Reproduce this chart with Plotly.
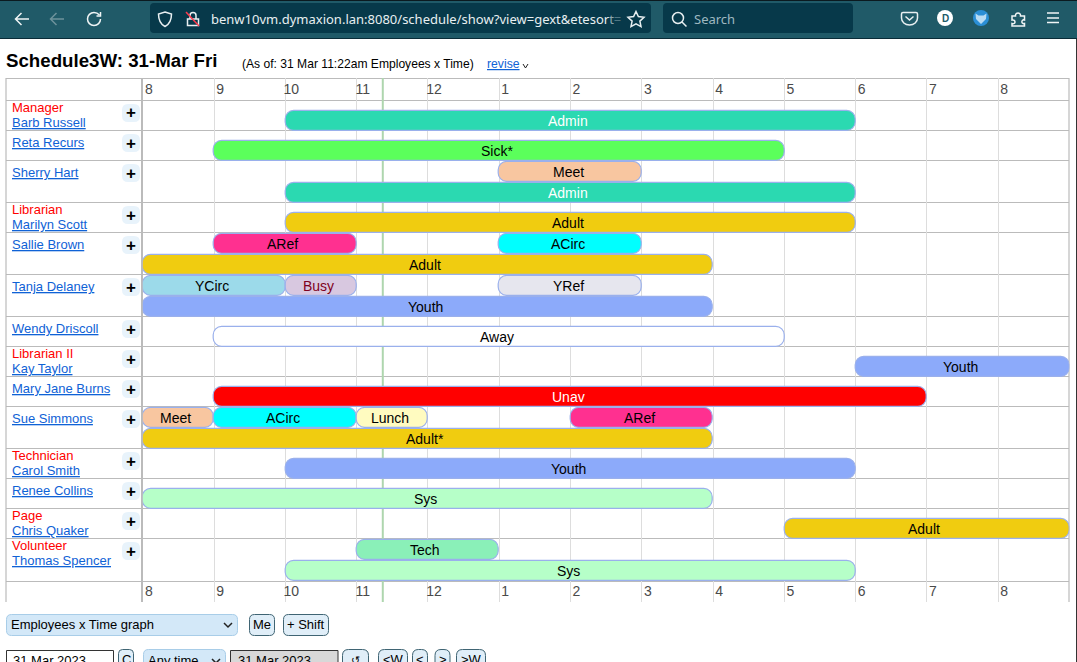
''' Schedule3W screen: staff x time graph, shown inside the browser window it was captured from '''

import re
import plotly.graph_objects as go

WIDTH = 1077
HEIGHT = 662

# Staff rows, top to bottom
employees = ['Barb Russell', 'Reta Recurs', 'Sherry Hart', 'Marilyn Scott', 'Sallie Brown', 'Tanja Delaney',
             'Wendy Driscoll', 'Kay Taylor', 'Mary Jane Burns', 'Sue Simmons', 'Carol Smith', 'Renee Collins',
             'Chris Quaker', 'Thomas Spencer']
roles = ['Manager', '', '', 'Librarian', '', '', '', 'Librarian II', '', '', 'Technician', '', 'Page', 'Volunteer']

# Shifts: one entry per bar (hours on a 24h clock)
shift_staff = [0, 1, 2, 2, 3, 4, 4, 4, 5, 5, 5, 5, 6, 7, 8, 9, 9, 9, 9, 9, 10, 11, 12, 13, 13]
shift_lane = [0, 0, 0, 1, 0, 0, 0, 1, 0, 0, 0, 1, 0, 0, 0, 0, 0, 0, 0, 1, 0, 0, 0, 0, 1]
shift_label = ['Admin', 'Sick*', 'Meet', 'Admin', 'Adult', 'ARef', 'ACirc', 'Adult', 'YCirc', 'Busy', 'YRef', 'Youth',
               'Away', 'Youth', 'Unav', 'Meet', 'ACirc', 'Lunch', 'ARef', 'Adult*', 'Youth', 'Sys', 'Adult', 'Tech', 'Sys']
shift_start = [10, 9, 13, 10, 10, 9, 13, 8, 8, 10, 13, 8, 9, 18, 9, 8, 9, 11, 14, 8, 10, 8, 17, 11, 10]
shift_end = [18, 17, 15, 18, 18, 11, 15, 16, 10, 11, 15, 16, 17, 21, 19, 9, 11, 12, 16, 16, 18, 16, 21, 13, 18]

hour_ticks = [8, 9, 10, 11, 12, 13, 14, 15, 16, 17, 18, 19, 20]
hour_labels = ['8', '9', '10', '11', '12', '1', '2', '3', '4', '5', '6', '7', '8']
now_hour = 11 + 22 / 60

# Look of each shift type: fill, text
STYLES = {
    'Admin': ('#2bd9b1', '#ffffff'), 'Sick*': ('#5bff5b', '#000000'), 'Meet': ('#f8c6a0', '#000000'),
    'Adult': ('#f0cc10', '#000000'), 'Adult*': ('#f0cc10', '#000000'), 'ARef': ('#ff3090', '#000000'),
    'ACirc': ('#00ffff', '#000000'), 'YCirc': ('#9cdaea', '#000000'), 'Busy': ('#d8c8e0', '#800020'),
    'YRef': ('#e6e6ee', '#000000'), 'Youth': ('#8caafa', '#000000'), 'Away': ('#ffffff', '#000000'),
    'Unav': ('#ff0000', '#ffffff'), 'Lunch': ('#fffbc0', '#000000'), 'Sys': ('#b6ffc8', '#000000'),
    'Tech': ('#8af0b8', '#000000'),
}

FONT = 'Liberation Sans'
UI_FONT = 'Noto Sans'
GRID = '#dddddd'
RULE = '#bbbbbb'
LINK = '#0f62d6'

TABLE_LEFT, TABLE_RIGHT = 6, 1069
TABLE_TOP, HEADER_BOTTOM = 78, 100
PLOT_LEFT = 142
LANE = 21
ROW_MIN = 30
FOOTER = 21

shapes = []
annotations = []


def fx(x):
    return x / WIDTH


def fy(y):
    return 1 - y / HEIGHT


def label(x, y, text, size=13, color='#000000', font=FONT, anchor='left'):
    annotations.append(dict(xref='paper', yref='paper', x=fx(x), y=fy(y), text=text, showarrow=False,
                            xanchor=anchor, yanchor='middle', borderpad=0, borderwidth=0,
                            font=dict(family=font, size=size, color=color)))


def icon(d, color=None, width=1.5, fill=None):
    ''' Add an SVG path written in page pixels '''
    numbers = iter(re.findall(r'-?\d+\.?\d*|[A-Za-z]', d))
    out = []
    is_x = True
    for tok in numbers:
        if tok.isalpha():
            out.append(tok)
        else:
            out.append(str(fx(float(tok)) if is_x else fy(float(tok))))
            is_x = not is_x
    shapes.append(dict(type='path', xref='paper', yref='paper', path=' '.join(out), layer='above',
                       line=dict(color=color or 'rgba(0,0,0,0)', width=width if color else 0),
                       fillcolor=fill or 'rgba(0,0,0,0)'))


def box(x0, y0, x1, y1, fill, line=None, radius=0, width=1):
    ''' Rounded rectangle in page pixels '''
    r = radius
    if r:
        d = (f'M{x0 + r} {y0} L{x1 - r} {y0} Q{x1} {y0} {x1} {y0 + r} L{x1} {y1 - r} Q{x1} {y1} {x1 - r} {y1} '
             f'L{x0 + r} {y1} Q{x0} {y1} {x0} {y1 - r} L{x0} {y0 + r} Q{x0} {y0} {x0 + r} {y0} Z')
    else:
        d = f'M{x0} {y0} L{x1} {y0} L{x1} {y1} L{x0} {y1} Z'
    icon(d, color=line, width=width, fill=fill)


def dot(cx, cy, r, fill, line=None, width=1.5):
    shapes.append(dict(type='circle', xref='paper', yref='paper', layer='above',
                       x0=fx(cx - r), x1=fx(cx + r), y0=fy(cy + r), y1=fy(cy - r),
                       line=dict(color=line or 'rgba(0,0,0,0)', width=width if line else 0), fillcolor=fill))


# Row layout follows from how many lanes each person has
lanes = [1 + max(l for s, l in zip(shift_staff, shift_lane) if s == i) for i in range(len(employees))]
row_tops = []
y = HEADER_BOTTOM
for n in lanes:
    row_tops.append(y)
    y += max(ROW_MIN, LANE * n)
rows_bottom = y + 1  # last row sits one pixel taller in the capture
TABLE_BOTTOM = rows_bottom + FOOTER


def lane_centre(staff, lane):
    bottom = row_tops[staff] + max(ROW_MIN, LANE * lanes[staff])
    return bottom - 9 - LANE * (lanes[staff] - 1 - lane)


# Table rules
for y in [TABLE_TOP, HEADER_BOTTOM] + row_tops[1:] + [rows_bottom, TABLE_BOTTOM]:
    shapes.append(dict(type='line', xref='paper', yref='y', x0=fx(TABLE_LEFT), x1=fx(TABLE_RIGHT), y0=y + 0.5, y1=y + 0.5,
                       layer='below', line=dict(color=RULE, width=1.2)))
for x, w in [(TABLE_LEFT, 1.2), (PLOT_LEFT, 2), (TABLE_RIGHT, 1.2)]:
    shapes.append(dict(type='line', xref='paper', yref='y', x0=fx(x), x1=fx(x), y0=TABLE_TOP, y1=TABLE_BOTTOM,
                       layer='below', line=dict(color=RULE, width=w)))

# Staff names and add buttons
for i, name in enumerate(employees):
    top = row_tops[i]
    if roles[i]:
        label(12, top + 7.5, roles[i], color='#ff0000')
        label(12, top + 22, f'<u>{name}</u>', color=LINK)
    else:
        label(12, top + 12, f'<u>{name}</u>', color=LINK)
    box(122, top + 4, 140, top + 22, '#e8f3fb', radius=6)
    label(130.5, top + 13, '<b>+</b>', size=17, anchor='center')

fig = go.Figure()

# Current time marker sits under the bars
fig.add_trace(go.Scatter(x=[now_hour, now_hour], y=[TABLE_TOP, TABLE_BOTTOM], mode='lines', xaxis='x', yaxis='y',
                         line=dict(color='#aed6ae', width=2), hoverinfo='skip', showlegend=False))

lane_ys = [lane_centre(s, l) for s, l in zip(shift_staff, shift_lane)]

fig.add_trace(go.Bar(
    y=lane_ys,
    x=[e - s for s, e in zip(shift_start, shift_end)],
    base=shift_start,
    orientation='h',
    width=20,
    xaxis='x2',
    yaxis='y',
    marker=dict(color=[STYLES[t][0] for t in shift_label], cornerradius=9,
                line=dict(color='#9ab0ec', width=1.2)),
    hoverinfo='skip',
    showlegend=False,
))

# Bar captions sit a touch left of the bar centre, as the page lays them out
for text, start, end, ly in zip(shift_label, shift_start, shift_end, lane_ys):
    annotations.append(dict(xref='x2', yref='y', x=(start + end) / 2, y=ly, xshift=-2.5, text=text, showarrow=False,
                            xanchor='center', yanchor='middle', borderpad=0,
                            font=dict(family=FONT, size=14, color=STYLES[text][1])))

# Browser toolbar
box(0, 0, WIDTH, 38, '#205a68')
box(0, 0, WIDTH, 1, '#0b1a20')
box(0, 38, WIDTH, 39, '#0a2c38')
box(150, 3, 651, 33, '#07394a', radius=4)
box(663, 3, 853, 33, '#07394a', radius=4)
icon('M29 19 L15.5 19 M21.5 13 L15.5 19 L21.5 25', color='#f0f5f6')
icon('M64 19 L50.5 19 M56.5 13 L50.5 19 L56.5 25', color='#6d929b')
icon('M100.5 19 C100.5 22.6 97.6 25.5 94 25.5 C90.4 25.5 87.5 22.6 87.5 19 C87.5 15.4 90.4 12.5 94 12.5 '
     'C96 12.5 98 13.4 99.5 15', color='#f0f5f6')
icon('M100.5 12 L100.5 16 L96.5 16', color='#f0f5f6')
icon('M165 12 L171.5 14 C171.5 20 170 24 165 26.5 C160 24 158.5 20 158.5 14 Z', color='#e8eff1')
icon('M187.5 19 L198.5 19 L198.5 25.5 L187.5 25.5 Z M190 19 L190 15.5 C190 11.5 196 11.5 196 15.5 L196 19', color='#e8eff1')
icon('M186 12 L199 26', color='#ff3b4e')
label(211, 19, 'benw10vm.dymaxion.lan:8080/schedule/show?view=gext&amp;etesor<span style="color:#8ca6ae">t</span>'
      '<span style="color:#4f7682">=</span>', size=13, color='#e8eff1', font=UI_FONT)
icon('M636 11.5 L638.4 16.6 L644 17.3 L639.9 21.1 L641 26.6 L636 23.9 L631 26.6 L632.1 21.1 L628 17.3 L633.6 16.6 Z', color='#e8eff1')
dot(678, 18, 5.5, 'rgba(0,0,0,0)', line='#e8eff1')
icon('M682 22 L686.5 26.5', color='#e8eff1')
label(694, 19, 'Search', size=13, color='#9fb8c0', font=UI_FONT)
icon('M903 12.5 L916 12.5 C917 12.5 917.5 13 917.5 14 L917.5 18 C917.5 22 914 25 909.5 25 C905 25 901.5 22 901.5 18 '
     'L901.5 14 C901.5 13 902 12.5 903 12.5 Z M905.5 16.5 L909.5 20 L913.5 16.5', color='#e8eff1')
dot(945, 18, 8, '#ffffff')
label(945, 18.5, '<b>D</b>', size=10, color='#205a68', anchor='center')
dot(981, 18, 8, '#2b8fd6')
icon('M975.5 13.5 L978.5 15.5 L983.5 15.5 L986.5 13.5 L986 19 L981 24 L976 19 Z', fill='#b9dcf3')
icon('M1013 16 L1015.5 16 C1015 12 1021 12 1020.5 16 L1024.5 16 L1024.5 20 C1021 19 1021 24.5 1024.5 23.5 L1024.5 26 '
     'L1012 26 L1012 23.5 C1016 25 1016 19 1012 20 L1012 16 Z', color='#f0f5f6')
for bar_y in (13, 18, 22.5):
    icon(f'M1047 {bar_y} L1059 {bar_y}', color='#f0f5f6')
box(1076, 39, 1077, 662, '#333333')

# Page heading
label(6, 61, '<b>Schedule3W: 31-Mar Fri</b>', size=18.7)
label(242, 64, '(As of: 31 Mar 11:22am Employees x Time)', size=12.1)
label(487, 64, '<u>revise</u>', size=12.2, color=LINK)
icon('M523 64 L525.5 68 L528 64', color='#222222', width=1)

# Form controls under the table
box(6.5, 614.5, 237.5, 635.5, '#d3e8f8', line='#a8cde8', radius=5)
label(11, 624.5, 'Employees x Time graph')
icon('M224 623 L228 627 L232 623', color='#222222')
box(249.5, 614.5, 274.5, 635.5, '#e0eef8', line='#3f6473', radius=5)
label(262, 624.5, 'Me', anchor='center')
box(283.5, 614.5, 328.5, 635.5, '#e0eef8', line='#3f6473', radius=5)
label(306, 624.5, '+ Shift', anchor='center')

box(6.5, 650.5, 113.5, 670, '#ffffff', line='#333333')
label(13, 660.5, '31 Mar 2023')
box(118.5, 649.5, 133.5, 670, '#e0eef8', line='#3f6473', radius=4)
label(126, 659.5, 'C', anchor='center')
box(143.5, 649.5, 225.5, 670, '#d3e8f8', line='#a8cde8', radius=5)
label(148, 660.5, 'Any time')
icon('M212 659 L216 663 L220 659', color='#222222')
box(230.5, 650.5, 338, 670, '#d8d8d8', line='#333333')
label(238, 660.5, '31 Mar 2023')
box(342.5, 649.5, 368.5, 670, '#e0eef8', line='#3f6473', radius=6)
label(355, 660, '↺', size=11, anchor='center')
for x0, x1, text in [(378.5, 407.5, '&lt;W'), (412.5, 427.5, '&lt;'), (435, 450, '&gt;'), (456.5, 485.5, '&gt;W')]:
    box(x0, 649.5, x1, 670, '#e0eef8', line='#3f6473', radius=6)
    label((x0 + x1) / 2, 659.5, text, anchor='center')

hour_axis = dict(range=[8, 21], domain=[fx(PLOT_LEFT + 0.8), fx(TABLE_RIGHT + 0.5)], tickmode='array', tickvals=hour_ticks,
                 ticktext=hour_labels, ticks='', side='top', anchor='free', ticklabelstandoff=3, ticklabelshift=6,
                 tickfont=dict(family=FONT, size=14, color='#4a4a4a'), showline=False, zeroline=False, fixedrange=True)

fig.update_layout(
    width=WIDTH,
    height=HEIGHT,
    margin=dict(l=0, r=0, t=0, b=0),
    paper_bgcolor='#ffffff',
    plot_bgcolor='rgba(0,0,0,0)',
    showlegend=False,
    bargap=0,
    xaxis=dict(hour_axis, position=fy(HEADER_BOTTOM), showgrid=True, gridcolor=GRID, gridwidth=1),
    xaxis2=dict(hour_axis, position=fy(TABLE_BOTTOM), showgrid=False, overlaying='x'),
    yaxis=dict(range=[TABLE_BOTTOM, TABLE_TOP], domain=[fy(TABLE_BOTTOM), fy(TABLE_TOP)], visible=False, fixedrange=True),
    shapes=shapes,
    annotations=annotations,
)

fig.write_html('out.html', config=dict(displayModeBar=False),
               post_script="document.body.style.margin='0';document.body.style.overflow='hidden';")
